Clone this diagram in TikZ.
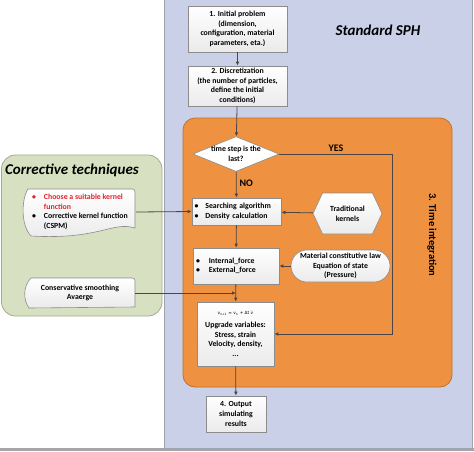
\documentclass[tikz,border=0pt]{standalone}
\usepackage{fontspec}
\setmainfont{Carlito}
\newfontfamily\djv{DejaVu Sans}
\usetikzlibrary{shapes.geometric,shapes.symbols,arrows.meta,calc}
\definecolor{bluebg}{HTML}{C9D0E8}
\definecolor{bluebd}{HTML}{9EA3B0}
\definecolor{orng}{HTML}{EE9242}
\definecolor{orngbd}{HTML}{C0712E}
\definecolor{grn}{HTML}{D8E0C2}
\definecolor{grnbd}{HTML}{A3AA92}
\definecolor{boxbd}{HTML}{8C8C8C}
\definecolor{lin}{HTML}{4D4545}
\definecolor{redt}{HTML}{E8202A}
\tikzset{
  txt/.style={font=\bfseries\fontsize{7.8}{9.6}\selectfont, align=center, inner sep=0pt},
  box/.style={txt, draw=boxbd, top color=white, bottom color=black!8, line width=0.6pt},
  arr/.style={draw=lin, line width=0.8pt, -{Latex[length=4pt,width=3.6pt]}},
  ln/.style={draw=lin, line width=0.8pt},
  ttl/.style={font=\bfseries\itshape\fontsize{15}{17}\selectfont, inner sep=0pt},
  lbl/.style={font=\bfseries\fontsize{10}{12}\selectfont, inner sep=0pt},
  tape/.style={draw=boxbd, top color=white, bottom color=black!8, line width=0.6pt}
}
\begin{document}
\begin{tikzpicture}[x=1pt,y=-1pt]
\useasboundingbox (0,0) rectangle (474,451);
% backgrounds
\fill[black!35] (0,0) rectangle (474,451);
\fill[white] (0,0) rectangle (474,448);
\draw[bluebd, fill=bluebg, line width=1pt] (164.5,-2) rectangle (472,448);
\draw[grnbd, fill=grn, line width=0.8pt, rounded corners=14pt] (1.5,155) rectangle (162,316);
\draw[orngbd, fill=orng, line width=0.8pt, rounded corners=12pt] (183,118) rectangle (452,387);

% titles
\node[ttl] (tsph) at (378,30) {Standard SPH};
\node[ttl, anchor=west] (tcor) at (5,170) {Corrective techniques};
\node[lbl, font=\bfseries\fontsize{10.5}{12}\selectfont, rotate=-90] (tint) at (432,235) {3. Time integration};

% main flow
\node[box, minimum width=99pt, minimum height=46pt] (b1) at (237.5,29) {1. Initial problem\\(dimension,\\configuration, material\\parameters, eta.)};
\node[box, minimum width=99pt, minimum height=40pt] (b2) at (237.5,86) {2. Discretization\\(the number of particles,\\define the initial\\conditions)};
\node[diamond, draw=boxbd, fill=white, line width=0.6pt, minimum width=86pt, minimum height=35pt, inner sep=0pt,
      label={[txt]center:{time step is the\\last?}}] (dia) at (236,154) {};
\node[box, minimum width=89pt, minimum height=27pt, text width=84pt, align=left] (srch) at (236.5,211.5)
  {\textbullet\hspace{7pt}Searching algorithm\\\textbullet\hspace{7pt}Density calculation};
\node[box, minimum width=86pt, minimum height=36pt, text width=80pt, align=left] (intf) at (236,266)
  {\textbullet\hspace{9pt}Internal\_force\\\textbullet\hspace{9pt}External\_force};
\node[box, minimum width=77pt, minimum height=64pt] (upg) at (235.5,334)
  {{\djv\mdseries\fontsize{4.3}{6}\selectfont v\textsubscript{n+1} = v\textsubscript{n} + Δt v̇}\\[3.5pt]Upgrade variables:\\Stress, strain\\Velocity, density,\\...};
\node[box, minimum width=60pt, minimum height=36pt] (outp) at (236,414) {4. Output\\simulating\\results};

% side nodes
\node[signal, signal to=east and west, signal pointer angle=130, draw=boxbd, top color=white, bottom color=black!8,
      line width=0.6pt, minimum width=69pt, minimum height=41pt, txt] (trad) at (347.5,213.5) {Traditional\\kernels};
\node[box, rounded corners=16pt, minimum width=99pt, minimum height=32pt] (matl) at (340.5,266)
  {Material constitutive law\\Equation of state\\(Pressure)};

% corrective boxes
\path[tape] (28,189) -- (132,189) .. controls (134,189) and (135,190) .. (135,192) -- (135,228)
  .. controls (112,221) and (100,240) .. (31,236) .. controls (21,226) and (21,200) .. (28,189) -- cycle;
\node[txt, minimum width=112pt, minimum height=48pt, align=left] (kern) at (80,212)
  {\begin{tabular}{@{}l@{\hspace{8pt}}l@{}}
   \textcolor{redt}{\textbullet} & \textcolor{redt}{Choose a suitable kernel}\\
    & \textcolor{redt}{function}\\
   \textbullet & Corrective kernel function\\
    & (CSPM)
   \end{tabular}};
\path[tape] (31,278) -- (132,278) .. controls (134,278) and (135,279) .. (135,281) -- (135,307)
  -- (29,308) .. controls (23,300) and (23,286) .. (31,278) -- cycle;
\node[txt, minimum width=110pt, minimum height=30pt] (cons) at (80,293) {Conservative smoothing\\Avaerge};

% connectors
\draw[arr] (b1) -- (b2);
\draw[arr] (b2) -- (dia);
\draw[arr] (dia) -- node[lbl, right=3pt, pos=0.45] (tno) {NO} (srch);
\draw[arr] (srch) -- (intf);
\draw[arr] (intf) -- (upg);
\draw[arr] (upg) -- (outp);
\draw[arr] (trad) -- (srch);
\draw[arr] (matl) -- (intf);
\draw[arr] (kern.east) -- (srch.west);
\coordinate (mj) at (236,293);
\draw[arr] (cons.east) -- (mj);
\coordinate (yc) at (392,334);
\draw[arr] (dia.east) -| (yc) -- (upg.east);
\node[lbl] (tyes) at (336,148) {YES};
\end{tikzpicture}
\end{document}
